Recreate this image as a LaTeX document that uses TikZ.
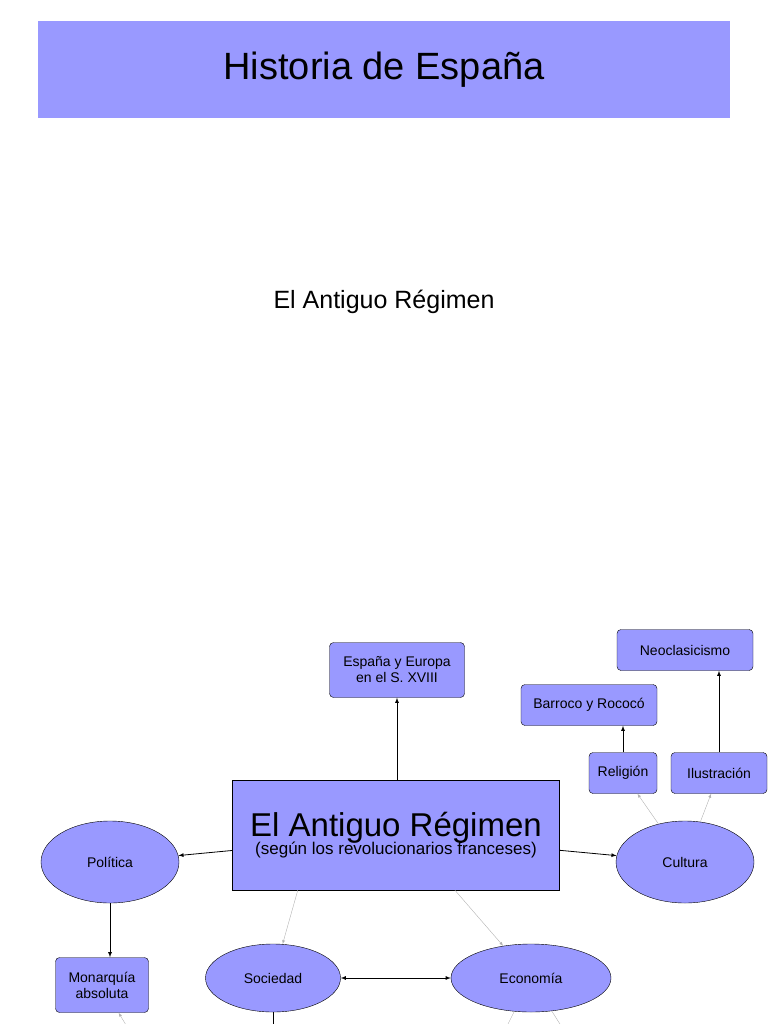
\documentclass[tikz,border=0pt]{standalone}
\usepackage{fontspec}
\setmainfont{Liberation Sans}
\usetikzlibrary{shapes, arrows, positioning, calc}
\definecolor{arblue}{RGB}{153,153,255}

\begin{document}
\begin{tikzpicture}[
      x=1pt, y=-1pt,
      box/.style={rectangle, rounded corners=4pt, draw, fill=arblue,
        inner sep=1pt, align=center, font=\fontsize{14}{16}\selectfont},
      blob/.style={ellipse, draw, fill=arblue, minimum width=138pt,
        minimum height=82pt, font=\fontsize{14}{16}\selectfont},
      arrow/.style={->, >=latex, thick},
      faint/.style={->, >=latex, gray!60}
    ]
      \useasboundingbox (0,0) rectangle (768,1024);
      \clip (0,0) rectangle (768,1024);

      % Title
      \node[rectangle, fill=arblue, minimum width=692pt, minimum height=97pt,
        font=\fontsize{38}{40}\selectfont] (title) at (384,70) {Historia de España};
      \node[font=\fontsize{25}{28}\selectfont] (sub) at (384,302) {El Antiguo Régimen};

      % Centre
      \node[rectangle, draw, fill=arblue, minimum width=327pt, minimum height=110pt,
        align=center, inner sep=0pt] (main) at (396,835)
        {{\fontsize{33}{38}\selectfont El Antiguo Régimen}\\[-2pt]
         {\fontsize{17}{20}\selectfont (según los revolucionarios franceses)}};

      % Boxes
      \node[box, minimum width=135pt, minimum height=55pt] (europa) at (397,670) {España y Europa\\en el S. XVIII};
      \node[box, minimum width=136pt, minimum height=41pt] (neo) at (685,650) {Neoclasicismo};
      \node[box, minimum width=136pt, minimum height=41pt] (barroco) at (589,705) {Barroco y Rococó};
      \node[box, minimum width=68pt, minimum height=41pt] (religion) at (623,773) {Religión};
      \node[box, minimum width=96pt, minimum height=41pt] (ilustra) at (719,773) {Ilustración};
      \node[box, minimum width=93pt, minimum height=55pt] (monarquia) at (102,985) {Monarquía\\absoluta};

      % Ellipses
      \node[blob] (politica) at (110,862) {Política};
      \node[blob] (cultura) at (685,862) {Cultura};
      \node[blob, minimum width=135pt, minimum height=68pt] (sociedad) at (273,978) {Sociedad};
      \node[blob, minimum width=160pt, minimum height=68pt] (economia) at (531,978) {Economía};

      % Off-page ends
      \coordinate (m_in) at (135,1040);
      \coordinate (s_out) at (273,1040);
      \coordinate (e_left) at (500,1040);
      \coordinate (e_right) at (570,1040);

      % Connections
      \draw[arrow] (main) -- (politica);
      \draw[arrow] (main) -- (cultura);
      \draw[arrow] (main.north -| europa) -- (europa);
      \draw[arrow] (politica) -- (politica |- monarquia.north);
      \draw[<->, >=latex, thick] (sociedad) -- (economia);
      \draw[arrow] (religion) -- (barroco.south -| religion);
      \draw[arrow] (ilustra) -- (neo.south -| ilustra);
      \draw[faint] (cultura) -- (religion);
      \draw[faint] (cultura) -- (ilustra);
      \draw[faint] ($(main.south west)!0.2!(main.south east)$) -- (sociedad);
      \draw[faint] ($(main.south west)!0.68!(main.south east)$) -- (economia);
      \draw[faint] (m_in) -- (monarquia);
      \draw[thick] (sociedad) -- (s_out);
      \draw[gray!60] (economia) -- (e_left);
      \draw[gray!60] (economia) -- (e_right);
    \end{tikzpicture}
\end{document}
